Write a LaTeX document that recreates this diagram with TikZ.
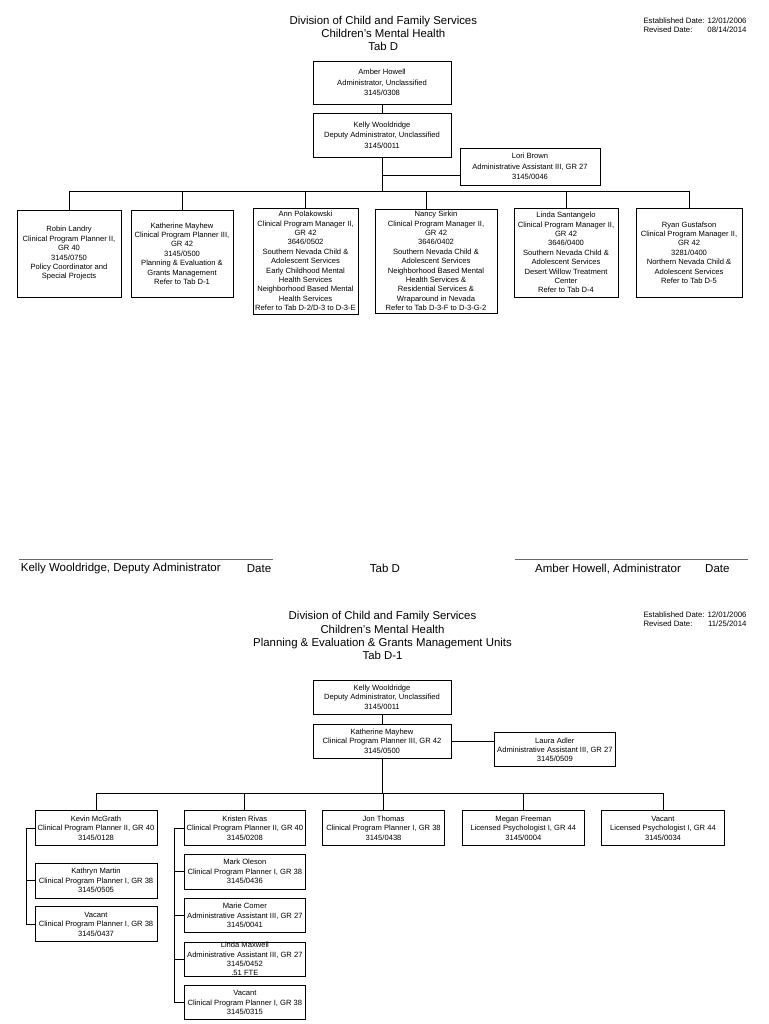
\documentclass[tikz,border=0pt]{standalone}
\usepackage{fontspec}
\setmainfont{Liberation Sans}
\tikzset{
  obox/.style={draw=black, line width=0.8pt, inner sep=0pt, align=center,
    font=\fontsize{7.6}{9.4}\selectfont},
  wide/.style={font=\fontsize{7.6}{10.5}\selectfont},
  conn/.style={draw=black, line width=0.8pt},
  sigline/.style={draw=black!60, line width=0.7pt},
  title/.style={align=center, inner sep=0pt, font=\fontsize{11.4}{13.4}\selectfont},
  sigtext/.style={inner sep=0pt, anchor=west, font=\fontsize{11.5}{13.5}\selectfont},
  datetext/.style={inner sep=0pt, font=\fontsize{7.8}{9}\selectfont},
}
\newcommand{\mybox}[7][]{%
  \node[obox,#1, minimum width={(#5-#3)*1pt}, minimum height={(#6-#4)*1pt}]
    (#2) at ({(#3+#5)/2},{(#4+#6)/2}) {#7};}
\begin{document}
\begin{tikzpicture}[x=1pt,y=-1pt]
\useasboundingbox (0,0) rectangle (768,1024);
\fill[white] (0,0) rectangle (768,1024);

% ================= TOP PAGE =================
\node[title] (t1) at (383.3,33.4) {Division of Child and Family Services\\Children’s Mental Health\\Tab D};
\node[datetext, anchor=west] (est1) at (643.3,20.7) {Established Date: 12/01/2006};
\node[datetext, anchor=west] (rev1) at (643.3,29.3) {Revised Date:};
\node[datetext, anchor=east] (revd1) at (746.7,29.3) {08/14/2014};

\mybox[wide]{amber}{313}{61}{451}{104}{Amber Howell\\Administrator, Unclassified\\3145/0308}
\mybox[wide]{kelly}{313}{113}{451}{157}{Kelly Wooldridge\\Deputy Administrator, Unclassified\\3145/0011}
\mybox[wide]{lori}{460}{148}{600}{185}{Lori Brown\\Administrative Assistant III, GR 27\\3145/0046}

\mybox{robin}{17}{210}{121}{297}{Robin Landry\\Clinical Program Planner II,\\GR 40\\3145/0750\\Policy Coordinator and\\Special Projects}
\mybox{kath}{131}{210}{233}{297}{Katherine Mayhew\\Clinical Program Planner III,\\GR 42\\3145/0500\\Planning \& Evaluation \&\\Grants Management\\Refer to Tab D-1}
\mybox{ann}{253}{208}{358}{314}{Ann Polakowski\\Clinical Program Manager II,\\GR 42\\3646/0502\\Southern Nevada Child \&\\Adolescent Services\\Early Childhood Mental\\Health Services\\Neighborhood Based Mental\\Health Services\\Refer to Tab D-2/D-3 to D-3-E}
\mybox{nancy}{375}{209}{497}{313}{Nancy Sirkin\\Clinical Program Manager II,\\GR 42\\3646/0402\\Southern Nevada Child \&\\Adolescent Services\\Neighborhood Based Mental\\Health Services \&\\Residential Services \&\\Wraparound in Nevada\\Refer to Tab D-3-F to D-3-G-2}
\mybox{linda}{514}{208}{618}{297}{Linda Santangelo\\Clinical Program Manager II,\\GR 42\\3646/0400\\Southern Nevada Child \&\\Adolescent Services\\Desert Willow Treatment\\Center\\Refer to Tab D-4}
\mybox{ryan}{636}{208}{742}{297}{Ryan Gustafson\\Clinical Program Manager II,\\GR 42\\3281/0400\\Northern Nevada Child \&\\Adolescent Services\\Refer to Tab D-5}

\coordinate (tbusy) at (0,191);
\coordinate (tloriy) at (0,175);
\coordinate (tbus) at (kelly.south |- tbusy);
\coordinate (tlori) at (kelly.south |- tloriy);
\coordinate (nancytop) at ([xshift=-10pt]nancy.north);
\draw[conn] (amber.south) -- (kelly.north);
\draw[conn] (kelly.south) -- (tbus);
\draw[conn] (tlori) -- (tlori -| lori.west);
\draw[conn] (tbus -| robin.north) -- (tbus -| ryan.north);
\draw[conn] (tbus -| robin.north) -- (robin.north);
\draw[conn] (tbus -| kath.north) -- (kath.north);
\draw[conn] (tbus -| ann.north) -- (ann.north);
\draw[conn] (nancytop |- tbus) -- (nancytop);
\draw[conn] (tbus -| linda.north) -- (linda.north);
\draw[conn] (tbus -| ryan.north) -- (ryan.north);

% signatures
\coordinate (s1a) at (19.3,559);
\coordinate (s1b) at (272.7,559);
\coordinate (s2a) at (515,559);
\coordinate (s2b) at (748.3,559);
\draw[sigline] (s1a) -- (s1b);
\draw[sigline] (s2a) -- (s2b);
\node[sigtext] (sg1) at (20.7,569) {Kelly Wooldridge, Deputy Administrator};
\node[sigtext] (sd1) at (246.7,569) {Date};
\node[sigtext, anchor=center] (tabd) at (385,568) {Tab D};
\node[sigtext] (sg2) at (535,569) {Amber Howell, Administrator};
\node[sigtext] (sd2) at (705,569) {Date};

% ================= BOTTOM PAGE =================
\node[title] (t2) at (382.5,635.8) {Division of Child and Family Services\\Children’s Mental Health\\Planning \& Evaluation \& Grants Management Units\\Tab D-1};
\node[datetext, anchor=west] (est2) at (643.3,615) {Established Date: 12/01/2006};
\node[datetext, anchor=west] (rev2) at (643.3,624) {Revised Date:};
\node[datetext, anchor=east] (revd2) at (746.7,624) {11/25/2014};

\mybox{kelly2}{313}{680}{451}{714}{Kelly Wooldridge\\Deputy Administrator, Unclassified\\3145/0011}
\mybox{kath2}{313}{724}{451}{758}{Katherine Mayhew\\Clinical Program Planner III, GR 42\\3145/0500}
\mybox{laura}{494}{732.7}{615.7}{766.7}{Laura Adler\\Administrative Assistant III, GR 27\\3145/0509}

\mybox{kevin}{35}{810.7}{157}{845.7}{Kevin McGrath\\Clinical Program Planner II, GR 40\\3145/0128}
\mybox{kathryn}{35}{863}{157}{898}{Kathryn Martin\\Clinical Program Planner I, GR 38\\3145/0505}
\mybox{vac1}{35}{906.7}{157}{941.7}{Vacant\\Clinical Program Planner I, GR 38\\3145/0437}

\mybox{kristen}{184}{810.7}{305.7}{845.7}{Kristen Rivas\\Clinical Program Planner II, GR 40\\3145/0208}
\mybox{mark}{184}{854}{305.7}{889}{Mark Oleson\\Clinical Program Planner I, GR 38\\3145/0436}
\mybox{marie}{184}{898}{305.7}{932.7}{Marie Comer\\Administrative Assistant III, GR 27\\3145/0041}
\mybox{lindam}{184}{942.3}{305.7}{976}{Linda Maxwell\\Administrative Assistant III, GR 27\\3145/0452\\.51 FTE}
\mybox{vac2}{184}{985.7}{305.7}{1019.3}{Vacant\\Clinical Program Planner I, GR 38\\3145/0315}

\mybox{jon}{322.7}{810.7}{444.3}{845.7}{Jon Thomas\\Clinical Program Planner I, GR 38\\3145/0438}
\mybox{megan}{462.3}{810.7}{584.3}{845.7}{Megan Freeman\\Licensed Psychologist I, GR 44\\3145/0004}
\mybox{vac3}{601.7}{810.7}{724.3}{845.7}{Vacant\\Licensed Psychologist I, GR 44\\3145/0034}

\coordinate (bbusy) at (0,793.3);
\coordinate (bbus) at (kath2.south |- bbusy);
\coordinate (rail1) at (26.7,0);
\coordinate (rail2) at (174.5,0);
\draw[conn] (kelly2.south) -- (kath2.north);
\draw[conn] (kath2.east) -- (kath2.east -| laura.west);
\draw[conn] (kath2.south) -- (bbus);
\draw[conn] (bbus -| kevin.north) -- (bbus -| vac3.north);
\draw[conn] (bbus -| kevin.north) -- (kevin.north);
\draw[conn] (bbus -| kristen.north) -- (kristen.north);
\draw[conn] (bbus -| jon.north) -- (jon.north);
\draw[conn] (bbus -| megan.north) -- (megan.north);
\draw[conn] (bbus -| vac3.north) -- (vac3.north);

\draw[conn] (kevin.west) -- (kevin.west -| rail1) -- (vac1.west -| rail1) -- (vac1.west);
\draw[conn] (kathryn.west -| rail1) -- (kathryn.west);

\draw[conn] (kristen.west) -- (kristen.west -| rail2) -- (vac2.west -| rail2) -- (vac2.west);
\draw[conn] (mark.west -| rail2) -- (mark.west);
\draw[conn] (marie.west -| rail2) -- (marie.west);
\draw[conn] (lindam.west -| rail2) -- (lindam.west);
\end{tikzpicture}
\end{document}
